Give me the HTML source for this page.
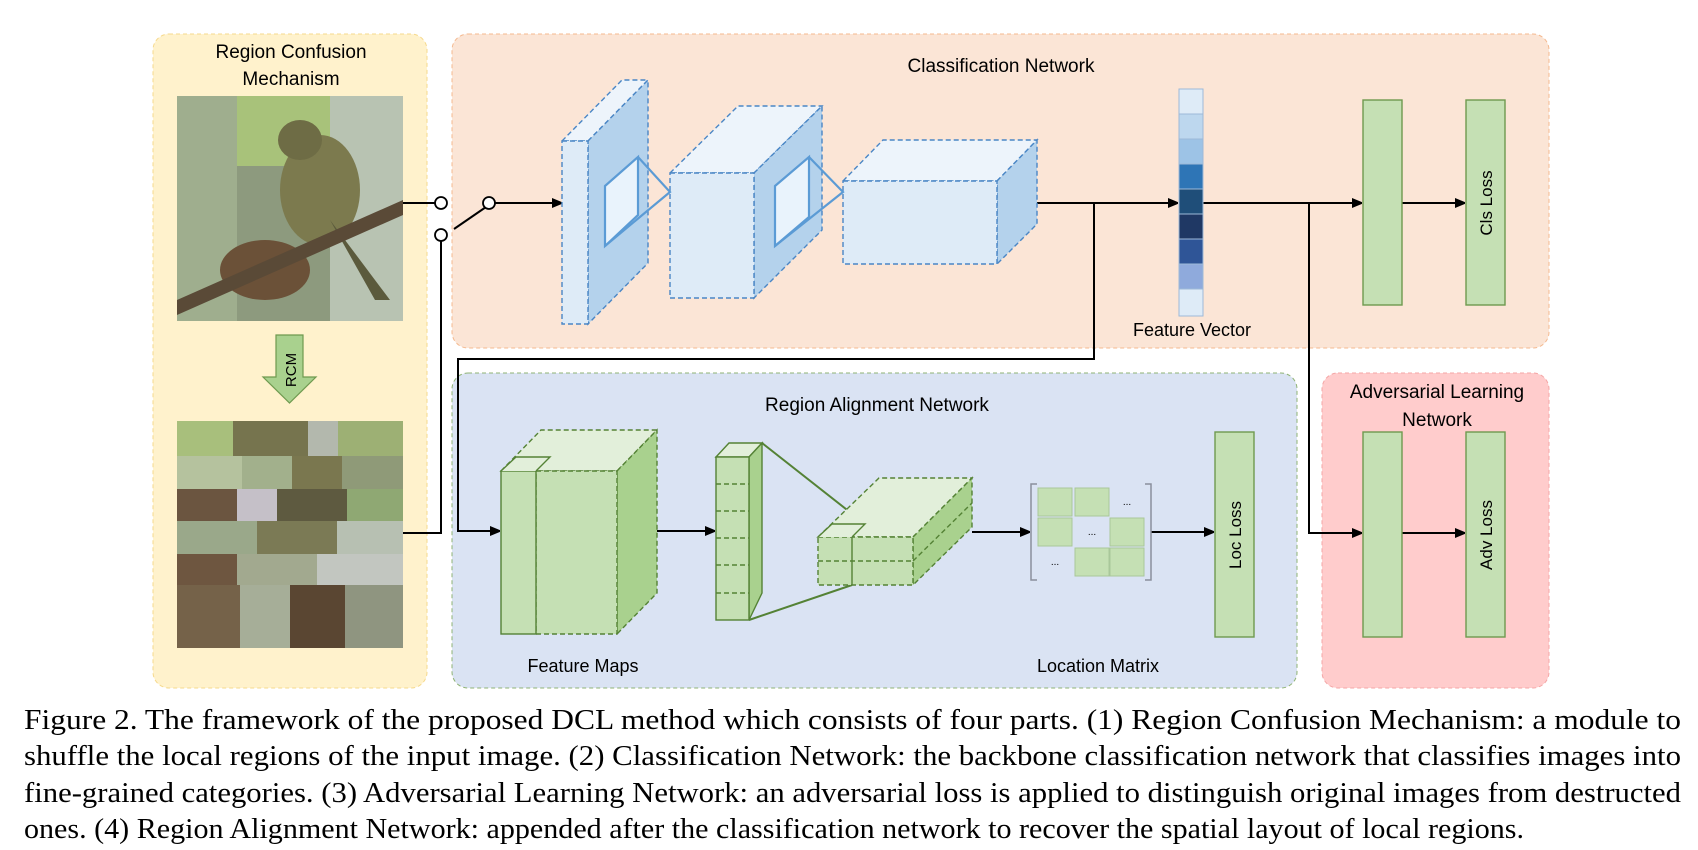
<!DOCTYPE html>
<html><head><meta charset="utf-8"><style>
html,body{margin:0;padding:0;background:#fff;}
svg{display:block}
text{font-family:"Liberation Sans",sans-serif;fill:#000}
.cap{font-family:"Liberation Serif",serif;font-size:29px}
</style></head><body>
<svg width="1698" height="850" viewBox="0 0 1698 850" xmlns="http://www.w3.org/2000/svg">
<defs>
<marker id="ah" markerWidth="10" markerHeight="10" refX="9" refY="5" orient="auto" markerUnits="userSpaceOnUse"><path d="M0,0 L12,5 L0,10 z" fill="#000"/></marker>
</defs>
<!-- panels -->
<rect x="153" y="34" width="274" height="654" rx="16" fill="#fff2cc" stroke="#f6d98c" stroke-dasharray="4,3"/>
<rect x="452" y="34" width="1097" height="314" rx="16" fill="#fbe5d6" stroke="#f4b98f" stroke-dasharray="4,3"/>
<rect x="452" y="373" width="845" height="315" rx="16" fill="#dae3f3" stroke="#8fb374" stroke-dasharray="4,3"/>
<rect x="1322" y="373" width="227" height="315" rx="16" fill="#ffcccc" stroke="#f4a6a6" stroke-dasharray="4,3"/>

<text x="291" y="58" font-size="19" text-anchor="middle">Region Confusion</text>
<text x="291" y="85" font-size="19" text-anchor="middle">Mechanism</text>
<text x="1001" y="72" font-size="19" text-anchor="middle">Classification  Network</text>
<text x="1192" y="336" font-size="18" text-anchor="middle">Feature Vector</text>
<text x="877" y="411" font-size="19" text-anchor="middle">Region Alignment Network</text>
<text x="1437" y="398" font-size="19" text-anchor="middle">Adversarial Learning</text>
<text x="1437" y="426" font-size="19" text-anchor="middle">Network</text>
<text x="583" y="672" font-size="18" text-anchor="middle">Feature Maps</text>
<text x="1098" y="672" font-size="18" text-anchor="middle">Location Matrix</text>

<!-- bird image -->
<g>
<rect x="177" y="96" width="226" height="225" fill="#8d9a7e"/>
<rect x="177" y="96" width="226" height="70" fill="#a8c27a"/>
<rect x="177" y="96" width="60" height="225" fill="#9fae8e"/>
<rect x="330" y="96" width="73" height="225" fill="#b8c3b2"/>
<ellipse cx="320" cy="190" rx="40" ry="55" fill="#7c7a4e"/>
<ellipse cx="300" cy="140" rx="22" ry="20" fill="#6e6c45"/>
<path d="M330 220 L390 300 L375 300 Z" fill="#5b5a3c"/>
<ellipse cx="265" cy="270" rx="45" ry="30" fill="#6b5138"/>
<path d="M177 300 L403 200 L403 215 L177 315 Z" fill="#5a4a37"/>
</g>
<!-- shuffled image -->
<g>
<rect x="177" y="421" width="226" height="227" fill="#8e9880"/>
<rect x="177" y="421" width="56" height="35" fill="#a8bf7c"/><rect x="233" y="421" width="75" height="35" fill="#76744e"/><rect x="308" y="421" width="30" height="35" fill="#b3b8ad"/><rect x="338" y="421" width="65" height="35" fill="#9db074"/>
<rect x="177" y="456" width="65" height="33" fill="#b5c29e"/><rect x="242" y="456" width="50" height="33" fill="#a2b08c"/><rect x="292" y="456" width="50" height="33" fill="#7a774f"/><rect x="342" y="456" width="61" height="33" fill="#8f9a78"/>
<rect x="177" y="489" width="60" height="32" fill="#6b5540"/><rect x="237" y="489" width="40" height="32" fill="#c5c0c8"/><rect x="277" y="489" width="70" height="32" fill="#5e5a40"/><rect x="347" y="489" width="56" height="32" fill="#8fa873"/>
<rect x="177" y="521" width="80" height="33" fill="#9aa88a"/><rect x="257" y="521" width="80" height="33" fill="#7b7a55"/><rect x="337" y="521" width="66" height="33" fill="#b7c0b2"/>
<rect x="177" y="554" width="60" height="31" fill="#6e5640"/><rect x="237" y="554" width="80" height="31" fill="#a2a98f"/><rect x="317" y="554" width="86" height="31" fill="#c2c6c0"/>
<rect x="177" y="585" width="63" height="63" fill="#756249"/><rect x="240" y="585" width="50" height="63" fill="#a6ae98"/><rect x="290" y="585" width="55" height="63" fill="#5a4632"/><rect x="345" y="585" width="58" height="63" fill="#8f9580"/>
</g>
<!-- RCM arrow -->
<path d="M276 335 H303 V377 H316 L289.5 403 L263 377 H276 Z" fill="#a9d18e" stroke="#6f9a4f" stroke-width="1.2"/>
<text transform="translate(296,370) rotate(-90)" font-size="15" text-anchor="middle">RCM</text>

<!-- switch & lines -->
<g stroke="#000" stroke-width="2" fill="none">
<path d="M403 203 H435"/>
<path d="M403 533 H441 V241"/>
<path d="M454 229 L486 207"/>
<path d="M495 203 H561" marker-end="url(#ah)"/>
<path d="M1037 203 H1177" marker-end="url(#ah)"/>
<path d="M1094 203 V359 H458 V531 H499" marker-end="url(#ah)"/>
<path d="M1203 203 H1361" marker-end="url(#ah)"/>
<path d="M1309 203 V533 H1361" marker-end="url(#ah)"/>
<path d="M1402 203 H1464" marker-end="url(#ah)"/>
<path d="M1402 533 H1464" marker-end="url(#ah)"/>
<path d="M657 531 H714" marker-end="url(#ah)"/>
<path d="M972 532 H1029" marker-end="url(#ah)"/>
<path d="M1151 532 H1213" marker-end="url(#ah)"/>
</g>
<g fill="#fff" stroke="#000" stroke-width="1.8">
<circle cx="441" cy="203" r="6"/><circle cx="441" cy="235" r="6"/><circle cx="489" cy="203" r="6"/>
</g>

<!-- blue blocks -->
<g stroke="#4a86c5" stroke-width="1.4" stroke-dasharray="5,3">
<path d="M562 141 L622 80 L648 80 L588 141 Z" fill="#edf4fb"/>
<path d="M588 141 L648 80 L648 263 L588 324 Z" fill="#b4d2ec"/>
<rect x="562" y="141" width="26" height="183" fill="#deebf7"/>
<path d="M670 173 L738 106 L822 106 L754 173 Z" fill="#edf4fb"/>
<path d="M754 173 L822 106 L822 230 L754 298 Z" fill="#b4d2ec"/>
<rect x="670" y="173" width="84" height="125" fill="#deebf7"/>
<path d="M843 181 L883 140 L1037 140 L997 181 Z" fill="#edf4fb"/>
<path d="M997 181 L1037 140 L1037 224 L997 264 Z" fill="#b4d2ec"/>
<rect x="843" y="181" width="154" height="83" fill="#deebf7"/>
</g>
<g stroke="#5b9bd5" stroke-width="2.2" fill="#e9f3fc">
<path d="M605 186 L638 157 L638 215 L605 246 Z"/>
<path d="M775 186 L809 157 L809 217 L775 246 Z"/>
<path d="M638 157 L670 192 L605 246" fill="none"/>
<path d="M809 157 L843 192 L775 246" fill="none"/>
</g>

<!-- feature vector -->
<g stroke="#9db9d8" stroke-width="1">
<rect x="1179" y="89" width="24" height="25" fill="#deebf7"/>
<rect x="1179" y="114" width="24" height="25" fill="#bdd7ee"/>
<rect x="1179" y="139" width="24" height="25" fill="#9dc3e6"/>
<rect x="1179" y="164" width="24" height="25" fill="#2e75b6"/>
<rect x="1179" y="189" width="24" height="25" fill="#1f4e79"/>
<rect x="1179" y="214" width="24" height="25" fill="#1f3864"/>
<rect x="1179" y="239" width="24" height="25" fill="#2f5597"/>
<rect x="1179" y="264" width="24" height="25" fill="#8faadc"/>
<rect x="1179" y="289" width="24" height="27" fill="#deebf7"/>
</g>

<!-- green bars -->
<g fill="#c5e0b4" stroke="#6f9a4f" stroke-width="1.4">
<rect x="1363" y="100" width="39" height="205"/>
<rect x="1466" y="100" width="39" height="205"/>
<rect x="1363" y="432" width="39" height="205"/>
<rect x="1466" y="432" width="39" height="205"/>
<rect x="1215" y="432" width="39" height="205"/>
</g>
<text transform="translate(1492,203) rotate(-90)" font-size="17" text-anchor="middle">Cls Loss</text>
<text transform="translate(1492,535) rotate(-90)" font-size="17" text-anchor="middle">Adv Loss</text>
<text transform="translate(1241,535) rotate(-90)" font-size="17" text-anchor="middle">Loc Loss</text>

<!-- feature maps block -->
<g stroke="#548235" stroke-width="1.4">
<path d="M501 471 L541 430 L657 430 L617 471 Z" fill="#e2efda" stroke-dasharray="5,3"/>
<path d="M617 471 L657 430 L657 593 L617 634 Z" fill="#a9d18e" stroke-dasharray="5,3"/>
<rect x="536" y="471" width="81" height="163" fill="#c5e0b4" stroke-dasharray="5,3"/>
<rect x="501" y="471" width="35" height="163" fill="#c5e0b4"/>
<path d="M501 471 L516 457 L550 457 L536 471" fill="#e2efda"/>
</g>
<!-- column -->
<g stroke="#548235" stroke-width="1.4">
<path d="M716 457 L729 443 L762 443 L749 457 Z" fill="#e2efda"/>
<path d="M749 457 L762 443 L762 593 L749 620 Z" fill="#a9d18e"/>
<rect x="716" y="457" width="33" height="163" fill="#c5e0b4"/>
<path d="M716 484 H749 M716 511 H749 M716 538 H749 M716 565 H749 M716 593 H749" stroke-dasharray="5,3"/>
<path d="M762 443 L865 524 M749 620 L852 585" stroke-width="2"/>
</g>
<!-- small block -->
<g stroke="#548235" stroke-width="1.4">
<path d="M818 537 L879 478 L972 478 L913 537 Z" fill="#e2efda" stroke-dasharray="5,3"/>
<path d="M913 537 L972 478 L972 527 L913 585 Z" fill="#a9d18e" stroke-dasharray="5,3"/>
<rect x="818" y="537" width="95" height="48" fill="#c5e0b4" stroke-dasharray="5,3"/>
<path d="M852 537 V585" />
<path d="M818 561 H913 M913 561 L972 503" stroke-dasharray="5,3"/>
<path d="M818 537 L832 524 L865 524 L852 537" fill="#e2efda"/>
</g>
<!-- matrix -->
<g fill="none" stroke="#8a8f9c" stroke-width="1.5">
<path d="M1037 484 H1031 V580 H1037"/>
<path d="M1145 484 H1151 V580 H1145"/>
</g>
<g fill="#c5e0b4" stroke="#a9c79a" stroke-width="1">
<rect x="1038" y="488" width="34" height="28"/><rect x="1075" y="488" width="34" height="28"/>
<rect x="1038" y="518" width="34" height="28"/><rect x="1110" y="518" width="34" height="28"/>
<rect x="1075" y="548" width="34" height="28"/><rect x="1110" y="548" width="34" height="28"/>
</g>
<text x="1127" y="505" font-size="10" text-anchor="middle">...</text>
<text x="1092" y="535" font-size="10" text-anchor="middle">...</text>
<text x="1055" y="565" font-size="10" text-anchor="middle">...</text>

<!-- caption -->
<text class="cap" x="24" y="729" textLength="1657" lengthAdjust="spacingAndGlyphs">Figure 2. The framework of the proposed DCL method which consists of four parts.  (1) Region Confusion Mechanism:  a module to</text>
<text class="cap" x="24" y="765" textLength="1657" lengthAdjust="spacingAndGlyphs">shuffle the local regions of the input image.  (2) Classification Network:  the backbone classification network that classifies images into</text>
<text class="cap" x="24" y="802" textLength="1657" lengthAdjust="spacingAndGlyphs">fine-grained categories.  (3) Adversarial Learning Network:  an adversarial loss is applied to distinguish original images from destructed</text>
<text class="cap" x="24" y="838" textLength="1500" lengthAdjust="spacingAndGlyphs">ones. (4) Region Alignment Network: appended after the classification network to recover the spatial layout of local regions.</text>
</svg>
</body></html>
